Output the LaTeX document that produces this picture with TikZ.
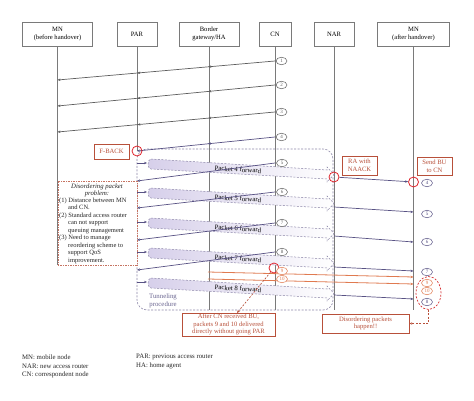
\documentclass[tikz,border=0pt]{standalone}
\usepackage{fontspec}
\setmainfont{Liberation Serif}
\usetikzlibrary{arrows.meta,decorations.markings,shapes.geometric,calc}
\definecolor{lifegray}{HTML}{7A7A7A}
\definecolor{msggray}{HTML}{5E5E5E}
\definecolor{msgpur}{HTML}{585284}
\definecolor{redc}{HTML}{E0262E}
\definecolor{brick}{HTML}{B8503A}
\definecolor{orangel}{HTML}{E07A50}
\definecolor{regionc}{HTML}{8C86A8}
\definecolor{lav}{HTML}{D6CFEA}
\definecolor{tunneltxt}{HTML}{6A6590}
\newcommand\packettube[2]{%
  \path[draw=regionc, dash pattern=on 2pt off 1.5pt, line width=0.5pt, left color=lav, right color=white]
    (151,#1-4) -- (327,#1+7) -- (327,#1+4) -- (334,#1+11.5) -- (327,#1+19) -- (327,#1+16) -- (151,#1+6) to[out=180,in=180] cycle;
  \node[rotate=-3.5, font=\fontsize{6.8}{8}\selectfont, text=black] (pk#2) at (238,#1+6.5) {Packet #2 forward};
  \coordinate (sa#2) at (137,#1);
  \coordinate (sb#2) at (147,#1);
  \draw[msgpur, line width=0.6pt, -{Stealth[length=3pt,width=2.4pt]}] (sa#2) -- (sb#2);
}
\begin{document}
\begin{tikzpicture}[x=1pt,y=-1pt, font=\fontsize{6.8}{7.6}\selectfont,
  hdr/.style={draw=lifegray, fill=white, line width=0.6pt, align=center, inner sep=1pt, minimum height=24pt, font=\fontsize{6.6}{7.6}\selectfont},
  life/.style={draw=lifegray, line width=0.8pt},
  msg/.style={draw=msggray, line width=0.7pt, -{Stealth[length=3pt,width=2.4pt]}},
  pmsg/.style={draw=msgpur, line width=0.7pt, -{Stealth[length=3pt,width=2.4pt]}},
  omsg/.style={draw=orangel, line width=0.8pt, -{Stealth[length=3pt,width=2.4pt]}},
  midtwo/.style={postaction={decorate, decoration={markings,
     mark=at position 0.307 with {\arrow{Stealth[length=3pt,width=2.4pt]}},
     mark=at position 0.633 with {\arrow{Stealth[length=3pt,width=2.4pt]}}}}},
  midone/.style={postaction={decorate, decoration={markings,
     mark=at position #1 with {\arrow{Stealth[length=3pt,width=2.4pt]}}}}},
  numg/.style={ellipse, draw=msggray, line width=0.5pt, inner sep=0.2pt, minimum width=11pt, minimum height=7.5pt, text=msggray, font=\fontsize{5}{5}\selectfont},
  nump/.style={numg, draw=msgpur, text=msgpur},
  numo/.style={numg, draw=orangel, text=orangel},
  redring/.style={circle, draw=redc, line width=0.8pt, minimum size=10pt, inner sep=0pt},
  note/.style={draw=brick, fill=white, line width=0.6pt, align=center, text=brick, inner sep=1pt, font=\fontsize{6.6}{7.6}\selectfont}]
\useasboundingbox (0,0) rectangle (474,401);
\fill[white] (0,0) rectangle (474,401);

% headers
\node[hdr, minimum width=70pt] (mnb) at (57.5,34) {MN\\(before handover)};
\node[hdr, minimum width=40pt] (par) at (137,34) {PAR};
\node[hdr, minimum width=60pt] (bgw) at (209,34) {Border\\gateway/HA};
\node[hdr, minimum width=32pt] (cn) at (275,34) {CN};
\node[hdr, minimum width=40pt] (nar) at (334,34) {NAR};
\node[hdr, minimum width=72pt] (mna) at (413.5,34) {MN\\(after handover)};

% tunnel region
\draw[regionc, dash pattern=on 2pt off 1.5pt, line width=0.6pt, rounded corners=10pt]
  (137,149) -- (333,149) -- (333,310) -- (137,310) -- cycle;
\node[align=center, text=tunneltxt, font=\fontsize{6.8}{7.4}\selectfont] (tun) at (163,301) {Tunneling\\procedure};

% lifelines
\coordinate (mnbE) at (57.5,265);
\coordinate (parE) at (137,151);
\coordinate (bgwE) at (209,310);
\coordinate (cnE) at (275,310);
\coordinate (narE) at (334,310);
\coordinate (mnaE) at (413.5,310);
\draw[life] (mnb.south) -- (mnbE);
\draw[life] (par.south) -- (parE);
\draw[life] (bgw.south) -- (bgwE);
\draw[life] (cn.south) -- (cnE);
\draw[life] (nar.south) -- (narE);
\draw[life] (mna.south) -- (mnaE);

% packet tubes
\packettube{163}{4}
\packettube{192}{5}
\packettube{222}{6}
\packettube{252}{7}
\packettube{282}{8}

% messages 1-4
\coordinate (c1) at (275,61);  \coordinate (m1) at (57.5,80);
\coordinate (c2) at (275,85);  \coordinate (m2) at (57.5,106);
\coordinate (c3) at (275,112); \coordinate (m3) at (57.5,132);
\coordinate (c4) at (275,137); \coordinate (p4) at (137,151);
\draw[msg, midtwo] (c1) -- (m1);
\draw[msg, midtwo] (c2) -- (m2);
\draw[msg, midtwo] (c3) -- (m3);
\draw[pmsg, midone=0.486] (c4) -- (p4);
\node[numg] (n1) at (281.5,61) {1};
\node[numg] (n2) at (281.5,85) {2};
\node[numg] (n3) at (281.5,112) {3};
\node[numg] (n4) at (281.5,137) {4};

% messages 5-8 CN -> PAR
\coordinate (c5) at (275,163); \coordinate (p5) at (137,181);
\coordinate (c6) at (275,192); \coordinate (p6) at (137,208);
\coordinate (c7) at (275,223); \coordinate (p7) at (137,240);
\coordinate (c8) at (275,252); \coordinate (p8) at (137,270);
\draw[pmsg] (c5) -- (p5);
\draw[pmsg] (c6) -- (p6);
\draw[pmsg] (c7) -- (p7);
\draw[pmsg] (c8) -- (p8);
\node[numg, fill=white] (n5) at (282,163) {5};
\node[numg, fill=white] (n6) at (282,192) {6};
\node[numg, fill=white] (n7) at (282,223) {7};
\node[numg, fill=white] (n8) at (282,252) {8};

% F-BACK
\node[redring] (fbr) at (137,151) {};
\node[note, minimum width=35pt, minimum height=15pt] (fback) at (111.5,151.5) {F-BACK};

% RA with NAACK
\node[redring] (rar) at (334,177) {};
\node[redring] (bur) at (413.5,182) {};
\draw[pmsg] (rar) -- (bur);
\node[note, minimum width=35pt, minimum height=19pt] (ra) at (359.5,165.5) {RA with\\NAACK};
\node[note, minimum width=35pt, minimum height=18pt] (sbu) at (434.5,166) {Send BU\\to CN};
\node[nump] (a4) at (427,183) {4};

% NAR -> MN after
\coordinate (r5) at (334,207); \coordinate (q5) at (413.5,212);
\coordinate (r6) at (334,236); \coordinate (q6) at (413.5,242);
\coordinate (r7) at (334,267); \coordinate (q7) at (413.5,271);
\coordinate (r8) at (334,295); \coordinate (q8) at (413.5,299);
\draw[pmsg] (r5) -- (q5);
\draw[pmsg] (r6) -- (q6);
\draw[pmsg] (r7) -- (q7);
\draw[pmsg] (r8) -- (q8);
\node[nump] (a5) at (427,214) {5};
\node[nump] (a6) at (427,242) {6};
\node[nump] (a7) at (427,272) {7};
\node[nump] (a8) at (427,302) {8};

% packets 9, 10
\coordinate (h9) at (208,272); \coordinate (q9) at (413.5,277);
\coordinate (h10) at (208,279); \coordinate (q10) at (413.5,284);
\draw[omsg] (h9) -- (q9);
\draw[omsg] (h10) -- (q10);
\node[redring] (cnr) at (274,268) {};
\node[numo, fill=white] (o9) at (282,271) {9};
\node[numo, fill=white] (o10) at (282,279) {10};
\node[numo] (a9) at (427,283) {9};
\node[numo] (a10) at (427,291) {10};

% After CN note
\node[note, minimum width=93pt, minimum height=23pt] (aftercn) at (228.5,324.5) {After CN received BU,\\packets 9 and 10 delivered\\directly without going PAR};
\coordinate (acin) at (237,313);
\draw[brick, dash pattern=on 2pt off 1.5pt, line width=0.6pt, -{Stealth[length=3pt,width=2.4pt]}] (cnr) -- (acin);

% disordering happen
\node[ellipse, draw=redc!75!brick, dash pattern=on 2pt off 1.5pt, line width=0.7pt, minimum width=25pt, minimum height=33pt] (dell) at (428.5,293) {};
\node[note, minimum width=87pt, minimum height=19pt] (happ) at (365.5,323.5) {Disordering packets\\happen!!};
\draw[brick, dash pattern=on 2pt off 1.5pt, line width=0.6pt, -{Stealth[length=3pt,width=2.4pt]}] (dell.south) |- (happ.east);

% disordering problem box
\node[draw=brick!80, dash pattern=on 1.5pt off 1pt, fill=white, line width=0.6pt, minimum width=79pt, minimum height=84pt, anchor=north west, inner sep=0pt] (dis) at (57.5,181) {};
\node[align=center, font=\fontsize{6.7}{7.4}\selectfont\itshape, text=black!85] (distitle) at (97,190.5) {Disordering packet\\problem:};
\node[align=left, anchor=north west, inner sep=0pt, font=\fontsize{6.5}{7.5}\selectfont, text=black!85] (dislist) at (59,197.5)
 {(1) Distance between MN\\\hspace*{9pt}and CN.\\(2) Standard access router\\\hspace*{9pt}can not support\\\hspace*{9pt}queuing management\\(3) Need to manage\\\hspace*{9pt}reordering scheme to\\\hspace*{9pt}support QoS\\\hspace*{9pt}improvement.};

% legend
\node[anchor=west, inner sep=0pt, text=black!85] (lg1) at (22,357) {MN: mobile node};
\node[anchor=west, inner sep=0pt, text=black!85] (lg2) at (22,366) {NAR: new access router};
\node[anchor=west, inner sep=0pt, text=black!85] (lg3) at (22,375) {CN: correspondent node};
\node[anchor=west, inner sep=0pt, text=black!85] (lg4) at (136,357) {PAR: previous access router};
\node[anchor=west, inner sep=0pt, text=black!85] (lg5) at (136,366) {HA: home agent};
\end{tikzpicture}
\end{document}
